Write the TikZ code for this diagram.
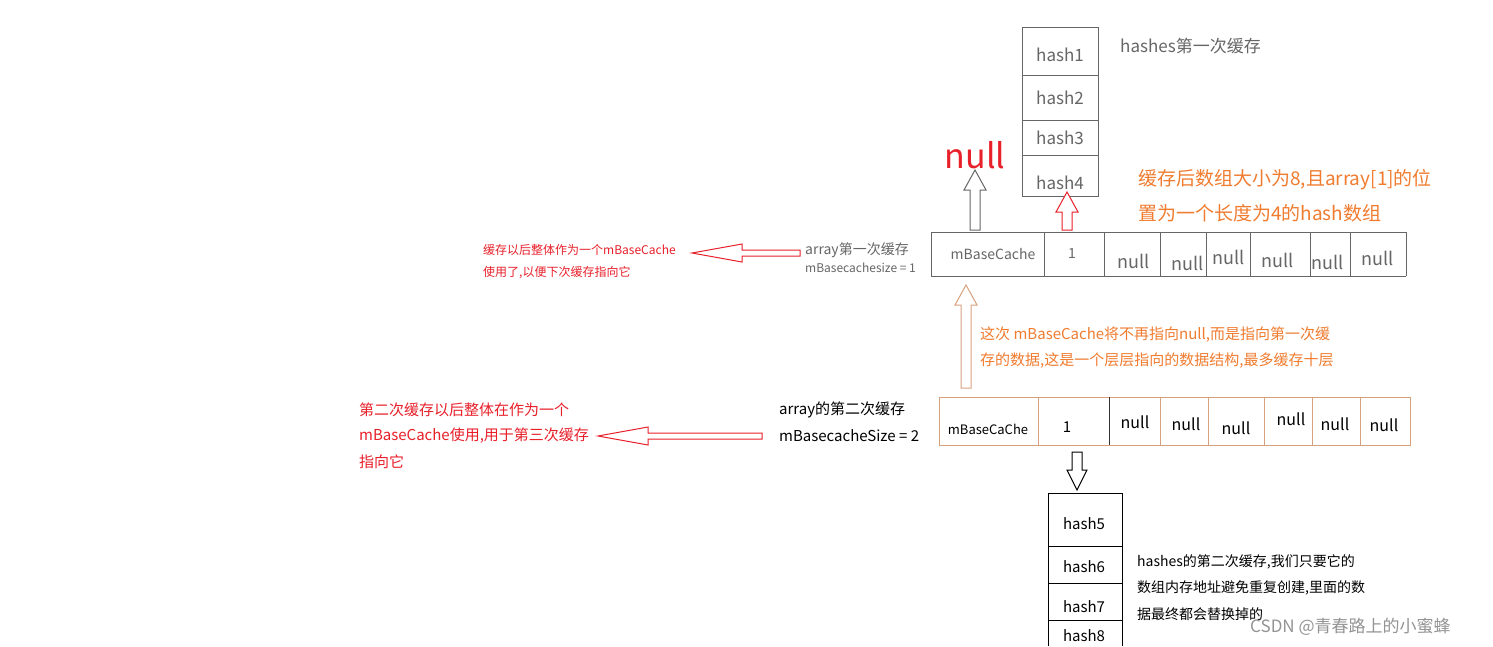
\documentclass[tikz,border=0pt]{standalone}
\usepackage{fontspec}
\setmainfont{Noto Sans CJK SC}
\definecolor{gr}{HTML}{666666}
\definecolor{rd}{HTML}{E8202A}
\definecolor{og}{HTML}{F07C30}
\definecolor{ob}{HTML}{D9A07E}
\newcommand\hollowup[4]{\draw[#4,line width=1pt,fill=white] (#1-5,#2)--(#1-5,#3+20)--(#1-11,#3+20)--(#1,#3)--(#1+11,#3+20)--(#1+5,#3+20)--(#1+5,#2)--cycle;}
\newcommand\hollowdown[4]{\draw[#4,line width=1pt,fill=white] (#1-5,#2)--(#1-5,#3-20)--(#1-10,#3-20)--(#1,#3)--(#1+10,#3-20)--(#1+5,#3-20)--(#1+5,#2)--cycle;}
\newcommand\hollowleft[4]{\draw[#4,line width=1pt,fill=white] (#1,#3-3)--(#2+50,#3-3)--(#2+50,#3-9)--(#2,#3)--(#2+50,#3+9)--(#2+50,#3+3)--(#1,#3+3)--cycle;}
\tikzset{t/.style={anchor=west,inner sep=0pt},
 cell/.style={anchor=center,inner sep=0pt}}
\begin{document}
\begin{tikzpicture}[x=1pt,y=-1pt]
\useasboundingbox[fill=white] (0,0) rectangle (1493,646);
% hashes 1
\draw[gr,line width=0.8pt] (1022,27) rectangle (1098,196);
\foreach \y in {75,120,155} \draw[gr,line width=0.8pt] (1022,\y)--(1098,\y);
\foreach \n/\y in {1/55,2/98,3/138,4/183} \node[cell,gr,font=\fontsize{17}{20}\selectfont] (h\n) at (1060,\y) {hash\n};
\node[t,gr,font=\fontsize{17}{20}\selectfont] (lh1) at (1120,46) {hashes第一次缓存};
\node[cell,rd,font=\fontsize{34}{38}\selectfont] (nl) at (975,155) {null};
\hollowup{975}{230}{170}{gr}
\hollowup{1067}{230}{192}{rd}
\node[t,og,font=\fontsize{19}{22}\selectfont] (o1) at (1138,180) {缓存后数组大小为8,且array[1]的位};
\node[t,og,font=\fontsize{19}{22}\selectfont] (o2) at (1138,213) {置为一个长度为4的hash数组};
% top array
\draw[gr,line width=0.8pt] (1406,232)--(931,232)--(931,276)--(1406,276);
\foreach \x in {1044,1104,1160,1206,1250,1310,1350,1406} \draw[gr,line width=0.8pt] (\x,232)--(\x,276);
\node[cell,gr,font=\fontsize{14}{16}\selectfont] (a0) at (993,254) {mBaseCache};
\node[cell,gr,font=\fontsize{14}{16}\selectfont] (a1) at (1072,254) {1};
\foreach \x/\y in {1134/261,1188/263,1229/257,1278/260,1328/262,1378/258} \node[cell,gr,font=\fontsize{18}{20}\selectfont] at (\x,\y) {null};
\node[t,gr,font=\fontsize{14}{16}\selectfont] (l1) at (805,250) {array第一次缓存};
\node[t,gr,font=\fontsize{12}{14}\selectfont] (l2) at (805,268) {mBasecachesize = 1};
\hollowleft{800}{692}{253}{rd}
\node[t,rd,font=\fontsize{12}{14}\selectfont] (r1) at (483,250) {缓存以后整体作为一个mBaseCache};
\node[t,rd,font=\fontsize{12}{14}\selectfont] (r2) at (483,273) {使用了,以便下次缓存指向它};
\hollowup{966}{388}{285}{ob}
\node[t,og,font=\fontsize{15}{18}\selectfont] (m1) at (980,335) {这次 mBaseCache将不再指向null,而是指向第一次缓};
\node[t,og,font=\fontsize{15}{18}\selectfont] (m2) at (980,361) {存的数据,这是一个层层指向的数据结构,最多缓存十层};
% bottom array
\draw[ob,line width=0.8pt] (939,397) rectangle (1410,445);
\foreach \x in {1038,1160,1208,1264,1312,1360} \draw[ob,line width=0.8pt] (\x,397)--(\x,445);
\draw[black!80,line width=0.8pt] (1109,397)--(1109,445);
\node[cell,font=\fontsize{13}{15}\selectfont] (b0) at (988,429) {mBaseCaChe};
\node[cell,font=\fontsize{15}{17}\selectfont] (b1) at (1067,427) {1};
\foreach \x/\y in {1135/422,1186/424,1236/428,1291/419,1335/424,1384/425} \node[cell,font=\fontsize{16}{18}\selectfont] at (\x,\y) {null};
\node[t,font=\fontsize{15}{17}\selectfont] (l3) at (779,410) {array的第二次缓存};
\node[t,font=\fontsize{15}{17}\selectfont] (l4) at (779,436) {mBasecacheSize = 2};
\hollowleft{762}{598}{436}{rd}
\node[t,rd,font=\fontsize{15}{17}\selectfont] (r3) at (359,410) {第二次缓存以后整体在作为一个};
\node[t,rd,font=\fontsize{15}{17}\selectfont] (r4) at (359,436) {mBaseCache使用,用于第三次缓存};
\node[t,rd,font=\fontsize{15}{17}\selectfont] (r5) at (359,462) {指向它};
\hollowdown{1077}{452}{490}{black}
% hashes 2
\draw[black,line width=0.8pt] (1048,646)--(1048,493)--(1122,493)--(1122,646);
\foreach \y in {546,583,620} \draw[black,line width=0.8pt] (1048,\y)--(1122,\y);
\foreach \n/\y in {5/524,6/567,7/607,8/636} \node[cell,font=\fontsize{15}{17}\selectfont] (g\n) at (1084,\y) {hash\n};
\node[t,font=\fontsize{14}{16}\selectfont] (k1) at (1137,562) {hashes的第二次缓存,我们只要它的};
\node[t,font=\fontsize{14}{16}\selectfont] (k2) at (1137,588) {数组内存地址避免重复创建,里面的数};
\node[t,font=\fontsize{14}{16}\selectfont] (k3) at (1137,614) {据最终都会替换掉的};
\node[t,gr!70,font=\fontsize{17}{20}\selectfont] (wm) at (1250,627) {CSDN @青春路上的小蜜蜂};
\end{tikzpicture}
\end{document}
